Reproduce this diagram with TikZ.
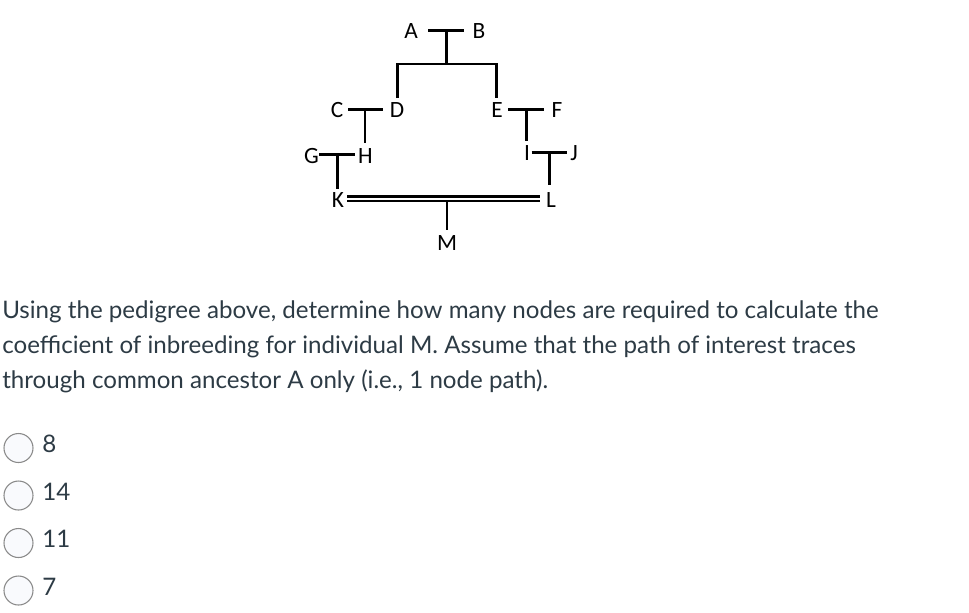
\documentclass[tikz,border=0pt]{standalone}
\usepackage{fontspec}
\setmainfont{Lato}
\newfontfamily\pedfont{Carlito}
\definecolor{txt}{HTML}{2D3B45}
\definecolor{radiofill}{HTML}{F9FAFD}
\definecolor{radioline}{HTML}{8A8A8A}
\begin{document}
\begin{tikzpicture}[x=0.75pt,y=-0.75pt,
  lbl/.style={inner sep=0pt,font=\pedfont\fontsize{17.5}{20}\selectfont,text=black},
  ped/.style={line width=2.1pt,black},
  dbl/.style={line width=1.8pt,black},
  qtext/.style={anchor=base west,inner sep=0pt,text=txt,font=\fontsize{18.1}{21}\selectfont},
  radio/.style={circle,draw=radioline,fill=radiofill,line width=0.8pt,minimum size=29*0.75pt,inner sep=0pt}]
\useasboundingbox[fill=white] (0,0) rectangle (969,612);
% labels
\node[lbl] (A) at (411,31) {A};
\node[lbl] (B) at (479,31) {B};
\node[lbl] (C) at (337,110) {C};
\node[lbl] (D) at (397,110) {D};
\node[lbl] (E) at (497,110) {E};
\node[lbl] (F) at (557,110) {F};
\node[lbl] (G) at (311.5,156) {G};
\node[lbl] (H) at (365.5,156) {H};
\node[lbl] (I) at (527,153) {I};
\node[lbl] (J) at (574,153) {J};
\node[lbl] (K) at (338,200.5) {K};
\node[lbl] (L) at (551,200.5) {L};
\node[lbl] (M) at (447,243) {M};
% junction coordinates
\coordinate (ABl) at (428.3,30.7);
\coordinate (ABr) at (464,30.7);
\coordinate (ABm) at (446.7,30.7);
\coordinate (sibm) at (446.7,64);
\coordinate (sibl) at (397.7,64);
\coordinate (sibr) at (496.7,64);
\coordinate (Dtop) at (397.7,98);
\coordinate (Etop) at (496.7,98);
\coordinate (CDl) at (348.3,109.3);
\coordinate (CDr) at (383.3,109.3);
\coordinate (CDm) at (365,109.3);
\coordinate (Htop) at (365,143);
\coordinate (EFl) at (508.3,109.3);
\coordinate (EFr) at (544,109.3);
\coordinate (EFm) at (526.7,109.3);
\coordinate (Itop) at (526.7,140.7);
\coordinate (GHl) at (319,154.3);
\coordinate (GHr) at (355,154.3);
\coordinate (GHm) at (337.7,154.3);
\coordinate (Ktop) at (337.7,189);
\coordinate (IJl) at (531.7,152.3);
\coordinate (IJr) at (566.7,152.3);
\coordinate (IJm) at (549.3,152.3);
\coordinate (Ltop) at (549.3,185);
\coordinate (KLl1) at (347.3,196.3);
\coordinate (KLr1) at (540,196.3);
\coordinate (KLl2) at (347.3,200.8);
\coordinate (KLr2) at (540,200.8);
\coordinate (KLm) at (447,201.5);
\coordinate (Mtop) at (447,230);
% lines
\draw[ped] (ABl) -- (ABr);
\draw[ped] (ABm) -- (sibm);
\draw[ped] (Dtop) -- (sibl) -- (sibr) -- (Etop);
\draw[ped] (CDl) -- (CDr);
\draw[ped] (CDm) -- (Htop);
\draw[ped] (EFl) -- (EFr);
\draw[ped] (EFm) -- (Itop);
\draw[ped] (GHl) -- (GHr);
\draw[ped] (GHm) -- (Ktop);
\draw[ped] (IJl) -- (IJr);
\draw[ped] (IJm) -- (Ltop);
\draw[dbl] (KLl1) -- (KLr1);
\draw[dbl] (KLl2) -- (KLr2);
\draw[ped] (KLm) -- (Mtop);
% question
\node[qtext] (q1) at (2,318) {Using the pedigree above, determine how many nodes are required to calculate the};
\node[qtext] (q2) at (2,353) {coefficient of inbreeding for individual M. Assume that the path of interest traces};
\node[qtext] (q3) at (2,388) {through common ancestor A only (i.e., 1 node path).};
% answers
\node[radio] (r1) at (18.5,448) {};
\node[radio] (r2) at (18.5,495.5) {};
\node[radio] (r3) at (18.5,543) {};
\node[radio] (r4) at (18.5,590.5) {};
\node[qtext] (a1) at (42,452) {8};
\node[qtext] (a2) at (42,500) {14};
\node[qtext] (a3) at (42,547) {11};
\node[qtext] (a4) at (42,595) {7};
\end{tikzpicture}
\end{document}
